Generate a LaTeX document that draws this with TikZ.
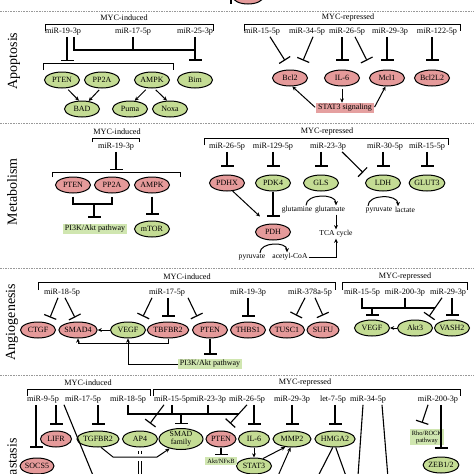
\documentclass[tikz,border=0pt]{standalone}
\usepackage{fontspec}
\setmainfont{Liberation Serif}
\usetikzlibrary{shapes.geometric, arrows.meta, positioning, calc}
\definecolor{upcolor}{RGB}{229,154,154}
\definecolor{downcolor}{RGB}{196,220,148}
\definecolor{pathgreen}{RGB}{208,230,176}
\definecolor{pathred}{RGB}{229,160,160}

\begin{document}
\begin{tikzpicture}[
    x=1pt, y=-1pt,
    gene/.style={draw, ellipse, line width=1pt, minimum width=35pt, minimum height=16pt, inner sep=0pt, font=\fontsize{8}{8}\selectfont},
    upgene/.style={gene, fill=upcolor},
    downgene/.style={gene, fill=downcolor},
    mirna/.style={font=\fontsize{8.2}{9}\selectfont, inner sep=1pt},
    mycgroup/.style={font=\fontsize{8.2}{9}\selectfont, inner sep=1pt},
    metab/.style={font=\fontsize{7.6}{8}\selectfont, inner sep=1pt},
    pathbox/.style={fill=pathgreen, font=\fontsize{8}{9}\selectfont, inner xsep=2pt, inner ysep=1.5pt, align=center},
    panel/.style={rotate=90, font=\fontsize{14}{14}\selectfont},
    inhib/.style={-{Bar[width=13pt, line width=1.2pt]}, line width=1.1pt},
    arrow/.style={-{Stealth[length=4.2pt, width=3.8pt]}, line width=1pt},
    link/.style={line width=1.1pt},
    bracket/.style={line width=0.9pt},
    divider/.style={gray!80, line width=0.6pt, dash pattern=on 1.6pt off 1pt}
]
\useasboundingbox (0,0) rectangle (474,474);
\clip (0,0) rectangle (474,474);

% Top
\node[upgene, minimum width=30pt, minimum height=14pt] (myc) at (248,-3) {};
\coordinate (mycin) at (231,0);
\draw[link] (mycin) -- ++(0,4);
\foreach \y in {11,123,268,375} \draw[divider] (0,\y) -- (474,\y);

% ---------------- Apoptosis ----------------
\node[panel] (apop) at (14,61) {Apoptosis};
\node[mycgroup] (mycA1) at (124,18) {MYC-induced};
\draw[bracket] (45,31) -- (45,24) -- (213,24) -- (213,31);
\node[mirna] (a19) at (63,32) {miR-19-3p};
\node[mirna] (a17) at (133,32) {miR-17-5p};
\node[mirna] (a25) at (195,32) {miR-25-3p};

\node[downgene] (ptenA) at (62,80) {PTEN};
\node[downgene] (pp2aA) at (102,80) {PP2A};
\node[downgene] (ampkA) at (152,80) {AMPK};
\node[downgene] (bim) at (195,80) {Bim};
\node[downgene] (bad) at (82,109) {BAD};
\node[downgene] (puma) at (130,109) {Puma};
\node[downgene] (noxa) at (170,109) {Noxa};

\draw[bracket] (43,70) -- (43,63) -- (173,63) -- (173,70);
\coordinate (grpA) at (108,63);
\coordinate (joinA) at (195,50);
\draw[inhib] ([xshift=4pt]a19.south) -- ([xshift=4pt,yshift=2pt]a19.south |- grpA);
\draw[link] ([xshift=11pt]a19.south) |- (joinA);
\draw[link] (a17.south) -- (a17.south |- joinA);
\draw[inhib] (a25.south) -- ([yshift=11pt]bim.north);

\draw[arrow, shorten <=2pt] (ptenA.-60) -- (bad.110);
\draw[arrow, shorten <=2pt] (pp2aA.-100) -- (bad.50);
\draw[arrow, shorten <=2pt] (ampkA.-120) -- (puma.60);
\draw[arrow, shorten <=2pt] (ampkA.-75) -- (noxa.110);

\node[mycgroup] (mycA2) at (348,18) {MYC-repressed};
\draw[bracket] (244,31) -- (244,24) -- (460,24) -- (460,31);
\node[mirna] (r15) at (262,32) {miR-15-5p};
\node[mirna] (r34) at (307,32) {miR-34-5p};
\node[mirna] (r26) at (347,32) {miR-26-5p};
\node[mirna] (r29) at (390,32) {miR-29-3p};
\node[mirna] (r122) at (437,32) {miR-122-5p};

\node[upgene] (bcl2) at (290,78) {Bcl2};
\node[upgene] (il6A) at (342,78) {IL-6};
\node[upgene] (mcl1) at (387,78) {Mcl1};
\node[upgene] (bcl2l2) at (432,78) {Bcl2L2};

\draw[inhib] ([xshift=8pt]r15.south) -- ([xshift=-5pt,yshift=9pt]bcl2.north);
\draw[inhib] ([xshift=6pt]r34.south) -- ([xshift=13pt,yshift=9pt]bcl2.north);
\draw[inhib] (r26.south -| il6A) -- ([yshift=9pt]il6A.north);
\draw[inhib] ([xshift=8pt]r26.south) -- ([xshift=-20pt,yshift=9pt]mcl1.north);
\draw[inhib] (r29.south -| mcl1) -- ([yshift=9pt]mcl1.north);
\draw[inhib] (r122.south -| bcl2l2) -- ([yshift=9pt]bcl2l2.north);

\node[pathbox, fill=pathred] (stat3A) at (345,108) {STAT3 signaling};
\draw[arrow, shorten <=1pt] (stat3A.west) -- (bcl2.-75);
\draw[arrow, shorten <=2pt] (il6A.south) -- (il6A.south |- stat3A.north);
\draw[arrow, shorten <=1pt] (stat3A.east) -- (mcl1.-100);

% ---------------- Metabolism ----------------
\node[panel] (metab) at (12,192) {Metabolism};
\node[mycgroup] (mycM1) at (117,132) {MYC-induced};
\draw[bracket] (92,142) -- (92,138) -- (139,138) -- (139,142);
\node[mirna] (m19) at (116,147) {miR-19-3p};
\draw[bracket] (52,177) -- (52,172) -- (180,172) -- (180,177);
\coordinate (grpM) at (116,172);
\draw[inhib] (m19.south) -- ([yshift=2pt]grpM);
\node[upgene] (ptenM) at (73,185) {PTEN};
\node[upgene] (pp2aM) at (112,185) {PP2A};
\node[upgene] (ampkM) at (152,185) {AMPK};
\coordinate (joinM) at (94,204);
\draw[link] ([yshift=-3pt]ptenM.south) |- (joinM) -| ([yshift=-3pt]pp2aM.south);
\node[pathbox] (pi3kM) at (95,229) {PI3K/Akt pathway};
\draw[inhib] (joinM) -- ([yshift=6pt]joinM |- pi3kM.north);
\node[downgene] (mtor) at (152,229) {mTOR};
\draw[inhib] ([yshift=-3pt]ampkM.south) -- ([yshift=6pt]mtor.north);

\node[mycgroup] (mycM2) at (327,132) {MYC-repressed};
\draw[bracket] (204,145) -- (204,138) -- (448,138) -- (448,145);
\node[mirna] (m26) at (227,147) {miR-26-5p};
\node[mirna] (m129) at (273,147) {miR-129-5p};
\node[mirna] (m23) at (328,147) {miR-23-3p};
\node[mirna] (m30) at (385,147) {miR-30-5p};
\node[mirna] (m15) at (427,147) {miR-15-5p};

\node[upgene] (pdhx) at (227,183) {PDHX};
\node[downgene] (pdk4) at (273,183) {PDK4};
\node[downgene] (gls) at (321,183) {GLS};
\node[downgene] (ldh) at (383,183) {LDH};
\node[downgene] (glut3) at (427,183) {GLUT3};

\draw[inhib] (m26.south -| pdhx) -- ([yshift=8pt]pdhx.north);
\draw[inhib] (m129.south -| pdk4) -- ([yshift=8pt]pdk4.north);
\draw[inhib] (m23.south -| gls) -- ([yshift=8pt]gls.north);
\draw[inhib] ([xshift=14pt]m23.south) -- ([xshift=-20pt,yshift=2pt]ldh.north);
\draw[inhib] (m30.south -| ldh) -- ([yshift=8pt]ldh.north);
\draw[inhib] (m15.south -| glut3) -- ([yshift=8pt]glut3.north);

\node[upgene] (pdh) at (273,232) {PDH};
\draw[arrow] (pdhx.-55) -- ([xshift=-13pt,yshift=7pt]pdh.north);
\draw[inhib] (pdk4.south) -- ([yshift=7pt]pdh.north);

\node[metab] (gln) at (297,210) {glutamine};
\node[metab] (glu) at (330,210) {glutamate};
\node[metab] (pyrL) at (379,210) {pyruvate};
\node[metab] (lac) at (405,210) {lactate};
\node[metab] (tca) at (336,234) {TCA cycle};
\node[metab] (pyrP) at (252,257) {pyruvate};
\node[metab] (acoa) at (290,257) {acetyl-CoA};

\draw[arrow] ([xshift=9pt]gln.north) .. controls +(0,-12) and +(0,-12) .. ([xshift=6pt]glu.north);
\draw[arrow] ([xshift=-11pt]pyrL.north) .. controls +(0,-12) and +(0,-12) .. ([xshift=-7pt]lac.north);
\draw[arrow] (tca.north |- glu.south) -- (tca.north);
\draw[arrow] (acoa.east) -| (tca.south);
\draw[arrow] ([xshift=8pt]pyrP.north) .. controls +(0,-11) and +(0,-11) .. ([xshift=-3pt]acoa.north);

% ---------------- Angiogenesis ----------------
\node[panel] (angio) at (12,322) {Angiogenesis};
\node[mycgroup] (mycG1) at (187,277) {MYC-induced};
\draw[bracket] (38,290) -- (38,282) -- (335,282) -- (335,290);
\node[mirna] (g18) at (62,293) {miR-18-5p};
\node[mirna] (g17) at (167,293) {miR-17-5p};
\node[mirna] (g19) at (248,293) {miR-19-3p};
\node[mirna] (g378) at (310,293) {miR-378a-5p};

\node[upgene] (ctgf) at (38,330) {CTGF};
\node[upgene] (smad4) at (78,330) {SMAD4};
\node[downgene] (vegfG) at (128,330) {VEGF};
\node[upgene] (tbfbr2) at (168,330) {TBFBR2};
\node[upgene] (ptenG) at (210,330) {PTEN};
\node[upgene] (thbs1) at (248,330) {THBS1};
\node[upgene] (tusc1) at (287,330) {TUSC1};
\node[upgene, minimum width=32pt] (sufu) at (323,330) {SUFU};

\draw[inhib] ([xshift=-4pt]g18.south) -- ([xshift=12pt,yshift=4pt]ctgf.north);
\draw[inhib] ([xshift=3pt]g18.south) -- ([xshift=-3pt,yshift=4pt]smad4.north);
\draw[inhib] ([xshift=-15pt]g17.south) -- ([xshift=15pt,yshift=5pt]vegfG.north);
\draw[inhib] (g17.south -| tbfbr2) -- ([yshift=5pt]tbfbr2.north);
\draw[inhib] ([xshift=21pt]g17.south) -- ([xshift=-13pt,yshift=5pt]ptenG.north);
\draw[inhib] (g19.south -| thbs1) -- ([yshift=5pt]thbs1.north);
\draw[inhib] ([xshift=-5pt]g378.south) -- ([xshift=9pt,yshift=6pt]tusc1.north);
\draw[inhib] ([xshift=5pt]g378.south) -- ([yshift=6pt]sufu.north);

\draw[arrow] (vegfG.west) -- (smad4.east);
\draw[arrow] (tbfbr2.south) -- ++(0,5) -| (smad4.south);
\node[pathbox] (pi3kG) at (210,364) {PI3K/Akt pathway};
\draw[arrow] (pi3kG.west) -| (vegfG.south);
\draw[inhib] (ptenG.south) -- ([yshift=4pt]pi3kG.north);

\node[mycgroup] (mycG2) at (405,277) {MYC-repressed};
\draw[bracket] (342,290) -- (342,282) -- (467,282) -- (467,290);
\node[mirna] (h15) at (362,293) {miR-15-5p};
\node[mirna] (h200) at (405,293) {miR-200-3p};
\node[mirna] (h29) at (448,293) {miR-29-3p};
\node[downgene] (vegfR) at (372,328) {VEGF};
\node[downgene] (akt3) at (415,328) {Akt3};
\node[downgene] (vash2) at (452,328) {VASH2};
\coordinate (joinG) at (435,308);
\draw[link] (h15.south) |- (joinG);
\draw[link] (h200.south) -- (h200.south |- joinG);
\draw[inhib] ([xshift=-6pt]h29.south) -- ([xshift=14pt,yshift=3pt]akt3.north);
\draw[inhib] (vegfR.north |- joinG) -- ([yshift=4pt]vegfR.north);
\draw[inhib] (h29.south -| vash2) -- ([yshift=4pt]vash2.north);
\draw[arrow] (akt3.west) -- (vegfR.east);

% ---------------- Metastasis ----------------
\node[panel] (metas) at (12,468) {Metastasis};
\node[mycgroup] (mycT1) at (88,383) {MYC-induced};
\draw[bracket] (27,396) -- (27,389) -- (150,389) -- (150,396);
\node[mycgroup] (mycT2) at (305,383) {MYC-repressed};
\draw[bracket] (153,396) -- (153,389) -- (460,389) -- (460,396);
\node[mirna] (t9) at (43,400) {miR-9-5p};
\node[mirna] (t17) at (83,400) {miR-17-5p};
\node[mirna] (t18) at (128,400) {miR-18-5p};
\node[mirna] (t15) at (172,400) {miR-15-5p};
\node[mirna] (t23) at (208,400) {miR-23-3p};
\node[mirna] (t26) at (247,400) {miR-26-5p};
\node[mirna] (t29) at (292,400) {miR-29-3p};
\node[mirna] (let7) at (333,400) {let-7-5p};
\node[mirna] (t34) at (368,400) {miR-34-5p};
\node[mirna] (t200) at (438,400) {miR-200-3p};

\node[upgene, minimum width=31pt] (lifr) at (56,439) {LIFR};
\node[downgene] (tgfbr2) at (98,439) {TGFBR2};
\node[downgene] (ap4) at (140,439) {AP4};
\node[downgene, minimum width=44pt, minimum height=21pt, align=center, font=\fontsize{7.8}{7.8}\selectfont] (smadf) at (181,439) {SMAD\\family};
\node[upgene, minimum width=30pt] (ptenT) at (221,439) {PTEN};
\node[downgene, minimum width=31pt] (il6T) at (254,439) {IL-6};
\node[downgene, minimum width=38pt] (mmp2) at (292,439) {MMP2};
\node[downgene, minimum width=38pt] (hmga2) at (335,439) {HMGA2};
\node[upgene, minimum width=33pt] (socs5) at (37,466) {SOCS5};
\node[downgene] (stat3T) at (254,466) {STAT3};
\node[pathbox, font=\fontsize{6.4}{7}\selectfont] (aktnf) at (221,461) {Akt/NFκB};
\node[pathbox, font=\fontsize{6.4}{7}\selectfont] (rho) at (427,437) {Rho/ROCK\\pathway};
\node[downgene] (zeb) at (441,465) {ZEB1/2};

\draw[inhib] ([xshift=-7pt]t9.south) -- ([xshift=-1pt,yshift=10pt]socs5.north);
\draw[inhib] (t9.south -| lifr) -- ([yshift=6pt]lifr.north);
\coordinate (t9end) at (99,490);
\draw[link] ([xshift=21pt]t9.south) -- (t9end);
\draw[inhib] (t17.south -| tgfbr2) -- ([yshift=6pt]tgfbr2.north);
\coordinate (joinT) at (239,414);
\draw[link] (t18.south) |- (joinT);
\draw[link] (t15.south) -- (t15.south |- joinT);
\draw[link] (t23.south) -- (t23.south |- joinT);
\draw[inhib] (smadf.north |- joinT) -- ([yshift=4pt]smadf.north);
\draw[inhib] ([xshift=-8pt]t15.south) -- ([xshift=10pt,yshift=7pt]ap4.north);
\draw[inhib] (t26.south) -- ([xshift=9pt,yshift=7pt]ptenT.north);
\draw[inhib] (t26.south -| il6T) -- ([yshift=6pt]il6T.north);
\draw[inhib] (t29.south -| mmp2) -- ([yshift=6pt]mmp2.north);
\draw[inhib] (let7.south -| hmga2) -- ([yshift=6pt]hmga2.north);
\coordinate (m34a) at (357,490);
\coordinate (m34b) at (389,490);
\draw[link] ([xshift=-5pt]t34.south) -- (m34a);
\draw[link] ([xshift=14pt]t34.south) -- (m34b);
\draw[inhib] ([xshift=-10pt]t200.south) -- ([xshift=-5pt,yshift=6pt]rho.north);
\draw[inhib] (t200.south -| zeb) -- ([yshift=8pt]zeb.north);

\coordinate (bendL) at (113,457);
\coordinate (bendR) at (157,457);
\draw[arrow] (tgfbr2.-70) -- (bendL) -- (bendR) -- (smadf.-140);
\coordinate (ap4gapT) at (140,454);
\coordinate (ap4gapB) at (140,461);
\coordinate (ap4end) at (140,490);
\draw[link, double distance=2.2pt] ([yshift=-3pt]ap4.south) -- (ap4gapT);
\draw[link, double distance=2.2pt] (ap4gapB) -- (ap4end);

\draw[inhib] (ptenT.south) -- ([yshift=2pt]aktnf.north);
\draw[arrow] (il6T.south) -- (stat3T.north);
\draw[arrow] (stat3T.40) -- (mmp2.-130);
\coordinate (mmpsrc) at (274,485);
\draw[arrow] (mmpsrc) -- (mmp2.-100);
\coordinate (hmgL) at (311,490);
\coordinate (hmgR) at (351,490);
\draw[link] (hmga2.-105) -- (hmgL);
\draw[link] (hmga2.-85) -- (hmgR);
\end{tikzpicture}
\end{document}
